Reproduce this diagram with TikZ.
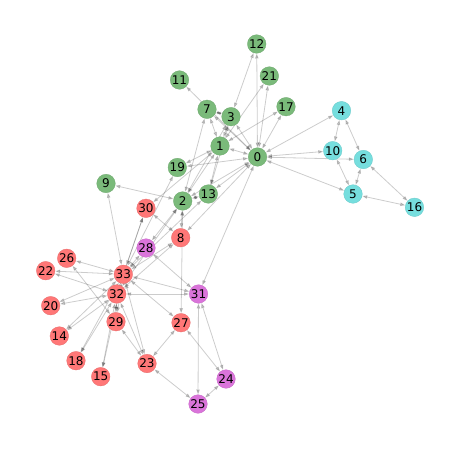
\documentclass[tikz,border=0pt]{standalone}
\usepackage{fontspec}
\setmainfont{DejaVu Sans}
\usetikzlibrary{arrows.meta}
\definecolor{cg}{RGB}{122,186,122}
\definecolor{cc}{RGB}{118,222,222}
\definecolor{cr}{RGB}{255,119,119}
\definecolor{cp}{RGB}{218,116,218}
\tikzset{
  vtx/.style={circle, minimum size=18.6pt, inner sep=0pt, font=\fontsize{12}{12}\selectfont, text=black},
  g/.style={vtx, fill=cg, draw=cg!90!black, line width=0.3pt},
  c/.style={vtx, fill=cc, draw=cc!90!black, line width=0.3pt},
  r/.style={vtx, fill=cr, draw=cr!90!black, line width=0.3pt},
  p/.style={vtx, fill=cp, draw=cp!90!black, line width=0.3pt},
  ghost/.style={circle, minimum size=18.6pt, inner sep=0pt},
  lnk/.style={draw=black, draw opacity=0.2, fill opacity=0.2, line width=0.8pt,
    {Triangle[length=5pt,width=3.4pt,fill=black]}-{Triangle[length=5pt,width=3.4pt,fill=black]}}
}
\begin{document}
\begin{tikzpicture}[x=1pt,y=-1pt]
\useasboundingbox (0,0) rectangle (460,449);
\coordinate (P0) at (257.5,157);
\coordinate (P1) at (220,146);
\coordinate (P2) at (182.7,201);
\coordinate (P3) at (231,116.7);
\coordinate (P4) at (341.5,110.7);
\coordinate (P5) at (353,194);
\coordinate (P6) at (363.3,159.5);
\coordinate (P7) at (207,109.3);
\coordinate (P8) at (180.7,237.7);
\coordinate (P9) at (106,183.5);
\coordinate (P10) at (332.7,150.7);
\coordinate (P11) at (179.5,80);
\coordinate (P12) at (256.7,44);
\coordinate (P13) at (208.3,194);
\coordinate (P14) at (59.3,336);
\coordinate (P15) at (100.7,376.7);
\coordinate (P16) at (414.5,207.3);
\coordinate (P17) at (286,106.7);
\coordinate (P18) at (76,360.7);
\coordinate (P19) at (177.3,167.5);
\coordinate (P20) at (50.7,305.7);
\coordinate (P21) at (269.3,76);
\coordinate (P22) at (45.7,270.7);
\coordinate (P23) at (147,363.5);
\coordinate (P24) at (226,379);
\coordinate (P25) at (198,404);
\coordinate (P26) at (66.7,258.3);
\coordinate (P27) at (181,322.7);
\coordinate (P28) at (146,248);
\coordinate (P29) at (116,321.7);
\coordinate (P30) at (146,208.3);
\coordinate (P31) at (198.5,294);
\coordinate (P32) at (116.7,294);
\coordinate (P33) at (123.3,274.3);
\foreach \i in {0,...,33}
  \node[ghost] (n\i) at (P\i) {};
\foreach \a/\b in {0/1,0/2,0/3,0/4,0/5,0/6,0/7,0/8,0/10,0/11,0/12,0/13,0/17,0/19,0/21,0/31,
  1/2,1/3,1/7,1/13,1/17,1/19,1/21,1/30,
  2/3,2/7,2/8,2/9,2/13,2/27,2/28,2/32,
  3/7,3/12,3/13,4/6,4/10,5/6,5/10,5/16,6/16,
  8/30,8/32,8/33,9/33,13/33,14/32,14/33,15/32,15/33,18/32,18/33,19/33,20/32,20/33,22/32,22/33,
  23/25,23/27,23/29,23/32,23/33,24/25,24/27,24/31,25/31,26/29,26/33,27/33,28/31,28/33,
  29/32,29/33,30/32,30/33,31/32,31/33,32/33}
  \draw[lnk] (n\a) -- (n\b);
\foreach \i/\s in {0/g,1/g,2/g,3/g,4/c,5/c,6/c,7/g,8/r,9/g,10/c,11/g,12/g,13/g,14/r,15/r,16/c,17/g,18/r,19/g,20/r,21/g,22/r,23/r,24/p,25/p,26/r,27/r,28/p,29/r,30/r,31/p,32/r,33/r}
  \node[\s] (m\i) at (P\i) {\i};
\end{tikzpicture}
\end{document}
